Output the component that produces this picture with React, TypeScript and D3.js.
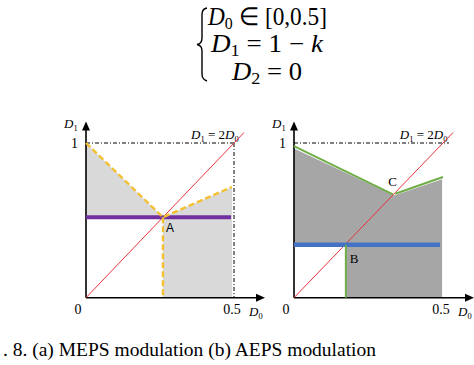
import * as d3 from "d3";

// axis ticks
const xTicks = [0, 0.5];
const yTicks = [1];
const xMax = 0.5;
const redEnd = 0.534;

// (a) MEPS
const mepsA: [number, number] = [0.26, 0.52];
const mepsEdge: [number, number][] = [[0, 1], [0.26, 0.52], [0.493, 0.716]];
const mepsRight = 0.493;
const mepsPurpleEnd = 0.49;

// (b) AEPS
const aepsB: [number, number] = [0.174, 0.342];
const aepsC: [number, number] = [0.336, 0.672];
const aepsEdge1: [number, number][] = [[0, 0.98], [0.332, 0.668]];
const aepsEdge2: [number, number][] = [[0.34, 0.672], [0.5, 0.78]];
const aepsFill: [number, number][] = [[0, 0.965], [0.336, 0.66], [0.497, 0.765]];
const aepsRight = 0.497;
const aepsBlueEnd = 0.49;

const W = 474;
const H = 365;
const y = d3.scaleLinear().domain([0, 1]).range([297.7, 143]);
const xL = d3.scaleLinear().domain([0, xMax]).range([86, 234]);
const xR = d3.scaleLinear().domain([0, xMax]).range([294, 443]);

const serif = "'Liberation Serif', 'Times New Roman', serif";

const Sub = ({ base, sub, x, yy, size, anchor = "start" }: any) => (
  <text x={x} y={yy} fontFamily={serif} fontSize={size} textAnchor={anchor}>
    <tspan fontStyle="italic">{base}</tspan>
    <tspan fontSize={size * 0.65} dy={size * 0.2}>{sub}</tspan>
  </text>
);

const Frame = ({ x, arrowX, dash }: { x: d3.ScaleLinear<number, number>; arrowX: number; dash: boolean }) => {
  const x0 = x(0);
  const y0 = y(0);
  const topY = 121.5;
  return (
    <g>
      <line x1={x0} y1={y0} x2={x0} y2={topY + 6} stroke="#000" strokeWidth={1.6} />
      <polygon points={`${x0},${topY} ${x0 - 4},${topY + 9} ${x0 + 4},${topY + 9}`} fill="#000" />
      <line x1={x0} y1={y0} x2={arrowX - 6} y2={y0} stroke="#000" strokeWidth={1.6} />
      <polygon points={`${arrowX},${y0} ${arrowX - 9},${y0 - 4} ${arrowX - 9},${y0 + 4}`} fill="#000" />
      <line x1={x0} y1={y(1)} x2={dash ? x(xMax) + 2 : x(0.52)} y2={y(1)} stroke="#000" strokeWidth={1} strokeDasharray="4 2 1 2" />
      {dash && (
        <line x1={x(xMax)} y1={y(1)} x2={x(xMax)} y2={y0} stroke="#000" strokeWidth={1} strokeDasharray="4 2 1 2" />
      )}
      {xTicks.map((t) => (
        <text key={t} x={t === 0 ? x(t) - 8 : x(t) - 2} y={314} fontFamily={serif} fontSize={14} textAnchor="middle">
          {t === 0 ? "0" : t}
        </text>
      ))}
      {yTicks.map((t) => (
        <text key={t} x={x0 - 8} y={y(t) + 5} fontFamily={serif} fontSize={14} textAnchor="end">
          {t}
        </text>
      ))}
      <Sub base="D" sub="1" x={x0 - 22} yy={128} size={13} />
      <Sub base="D" sub="0" x={arrowX - 16} yy={316} size={13} />
      <text x={x(0.355)} y={139} fontFamily={serif} fontSize={13}>
        <tspan fontStyle="italic">D</tspan>
        <tspan fontSize={8.5} dy={2.6}>1</tspan>
        <tspan dy={-2.6}> = 2</tspan>
        <tspan fontStyle="italic">D</tspan>
        <tspan fontSize={8.5} dy={2.6}>0</tspan>
      </text>
    </g>
  );
};

const Red = ({ x }: { x: d3.ScaleLinear<number, number> }) => (
  <line x1={x(0)} y1={y(0)} x2={x(redEnd)} y2={y(2 * redEnd)} stroke="#e8323c" strokeWidth={1} />
);

export default function App() {
  const lineL = d3.line<[number, number]>().x((d) => xL(d[0])).y((d) => y(d[1]));
  const lineR = d3.line<[number, number]>().x((d) => xR(d[0])).y((d) => y(d[1]));

  const mepsFillLeft: [number, number][] = [[0, 1], mepsA, [0, mepsA[1]]];
  const mepsFillRight: [number, number][] = [mepsA, mepsEdge[2], [mepsRight, 0], [mepsA[0], 0]];
  const aepsPoly: [number, number][] = [
    ...aepsFill,
    [aepsRight, 0],
    [aepsB[0], 0],
    aepsB,
    [0, aepsB[1]],
  ];

  return (
    <svg width={W} height={H} viewBox={`0 0 ${W} ${H}`} style={{ position: "absolute", left: 0, top: 0, background: "#fff" }}>
      {/* formula */}
      <path
        d="M207,8 C201,9 202,14 202,22 L202,38 C202,42 200,44 197,44.5 C200,45 202,47 202,51 L202,67 C202,75 201,79 207,81"
        fill="none"
        stroke="#000"
        strokeWidth={1.4}
      />
      <g fontFamily={serif} fontSize={25}>
        <text x={208} y={25} textLength={119} lengthAdjust="spacingAndGlyphs">
          <tspan fontStyle="italic">D</tspan>
          <tspan fontSize={17} dy={4}>0</tspan>
          <tspan dy={-4}> ∈ [0,0.5]</tspan>
        </text>
        <text x={211} y={52} textLength={112} lengthAdjust="spacingAndGlyphs">
          <tspan fontStyle="italic">D</tspan>
          <tspan fontSize={17} dy={4}>1</tspan>
          <tspan dy={-4}> = 1 − </tspan>
          <tspan fontStyle="italic">k</tspan>
        </text>
        <text x={232} y={80} textLength={70} lengthAdjust="spacingAndGlyphs">
          <tspan fontStyle="italic">D</tspan>
          <tspan fontSize={17} dy={4}>2</tspan>
          <tspan dy={-4}> = 0</tspan>
        </text>
      </g>

      {/* (a) MEPS */}
      <path d={lineL(mepsFillLeft) + "Z"} fill="#d9d9d9" />
      <path d={lineL(mepsFillRight) + "Z"} fill="#d9d9d9" />
      <Frame x={xL} arrowX={265} dash={true} />
      <Red x={xL} />
      <line x1={xL(0)} x2={xL(mepsPurpleEnd)} y1={y(mepsA[1])} y2={y(mepsA[1])} stroke="#7030a0" strokeWidth={4} />
      <path d={lineL(mepsEdge) ?? ""} fill="none" stroke="#f4c030" strokeWidth={2.4} strokeDasharray="6 3" />
      <line x1={xL(mepsA[0])} x2={xL(mepsA[0])} y1={y(mepsA[1])} y2={y(0)} stroke="#f4c030" strokeWidth={2.4} strokeDasharray="6 3" />
      <text x={xL(mepsA[0]) + 3} y={y(mepsA[1]) + 15} fontFamily="'Liberation Sans', Arial, sans-serif" fontSize={12}>A</text>

      {/* (b) AEPS */}
      <path d={lineR(aepsPoly) + "Z"} fill="#a6a6a6" />
      <Frame x={xR} arrowX={474} dash={false} />
      <Red x={xR} />
      <line x1={xR(0)} x2={xR(aepsBlueEnd)} y1={y(aepsB[1])} y2={y(aepsB[1])} stroke="#4472c4" strokeWidth={4.5} />
      <path d={lineR(aepsEdge1) ?? ""} fill="none" stroke="#70ad47" strokeWidth={2} />
      <path d={lineR(aepsEdge2) ?? ""} fill="none" stroke="#70ad47" strokeWidth={2} />
      <line x1={xR(aepsB[0])} x2={xR(aepsB[0])} y1={y(aepsB[1])} y2={y(0)} stroke="#70ad47" strokeWidth={2} />
      <text x={xR(aepsB[0]) + 4} y={y(aepsB[1]) + 18} fontFamily={serif} fontSize={13}>B</text>
      <text x={xR(aepsC[0]) - 6} y={y(aepsC[1]) - 8} fontFamily={serif} fontSize={13}>C</text>

      {/* caption */}
      <text x={3} y={356} fontFamily={serif} fontSize={19} textLength={373} lengthAdjust="spacingAndGlyphs">
        . 8. (a) MEPS modulation (b) AEPS modulation
      </text>
    </svg>
  );
}
